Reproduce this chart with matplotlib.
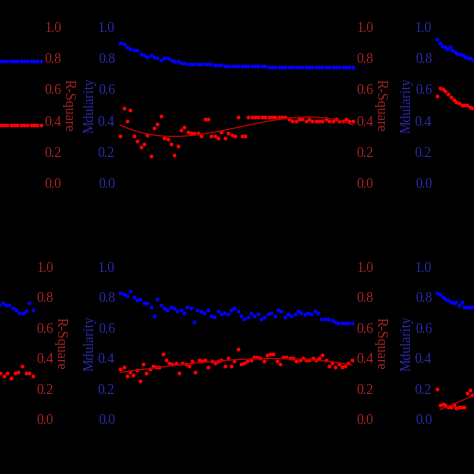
import matplotlib.pyplot as plt
import numpy as np

plt.rcParams['font.family'] = ['Liberation Serif', 'DejaVu Serif']

# --- data ---
# top row
tl_mod = [0.78] * 14
tl_r2 = [0.37] * 14
tm_mod = [0.90, 0.89, 0.87, 0.86, 0.85, 0.85, 0.83, 0.82, 0.81, 0.82, 0.81, 0.80, 0.79, 0.80,
          0.80, 0.79, 0.78, 0.78, 0.77, 0.77, 0.765, 0.765, 0.765, 0.76, 0.76, 0.76, 0.76, 0.76,
          0.755, 0.755, 0.755, 0.75, 0.75, 0.75, 0.75, 0.75, 0.75, 0.75, 0.75, 0.75, 0.75, 0.75,
          0.75, 0.75, 0.745, 0.745, 0.745, 0.745, 0.745, 0.745, 0.745, 0.745, 0.745, 0.745, 0.745,
          0.745, 0.745, 0.745, 0.745, 0.745, 0.745, 0.745, 0.745, 0.745, 0.745, 0.745, 0.745, 0.745,
          0.745, 0.745]
tm_r2 = [0.30, 0.48, 0.40, 0.47, 0.30, 0.27, 0.23, 0.25, 0.31, 0.17, 0.35, 0.38, 0.43, 0.29,
         0.28, 0.25, 0.18, 0.24, 0.34, 0.36, 0.33, 0.32, 0.32, 0.32, 0.30, 0.41, 0.41, 0.30,
         0.30, 0.29, 0.33, 0.29, 0.32, 0.31, 0.30, 0.42, 0.30, 0.30,
         0.42, 0.42, 0.42, 0.42, 0.42, 0.42, 0.42, 0.42, 0.42, 0.42, 0.42, 0.42, 0.41, 0.40,
         0.40, 0.41, 0.41, 0.40, 0.41, 0.40, 0.40, 0.40, 0.40, 0.41, 0.40, 0.40, 0.41, 0.40,
         0.40, 0.41, 0.40, 0.40]
tr_mod = [0.92, 0.90, 0.88, 0.87, 0.86, 0.87, 0.85, 0.84, 0.83, 0.83, 0.82, 0.81, 0.80, 0.80, 0.79, 0.79]
tr_r2 = [0.56, 0.61, 0.60, 0.59, 0.57, 0.55, 0.53, 0.52, 0.51, 0.50, 0.50, 0.50, 0.49, 0.48, 0.48]

# bottom row
bl_mod = [0.73, 0.70, 0.77, 0.75, 0.76, 0.75, 0.75, 0.73, 0.72, 0.70, 0.70, 0.71, 0.76, 0.72]
bl_r2 = [0.31, 0.32, 0.31, 0.30, 0.28, 0.30, 0.27, 0.30, 0.31, 0.35, 0.30, 0.30, 0.28]
bm_mod = [0.83, 0.82, 0.81, 0.84, 0.80, 0.78, 0.79, 0.76, 0.76, 0.74, 0.68, 0.79, 0.75, 0.73,
          0.72, 0.74, 0.73, 0.71, 0.72, 0.70, 0.74, 0.73, 0.64, 0.72, 0.71, 0.70, 0.72, 0.68,
          0.67, 0.71, 0.69, 0.70, 0.69, 0.72, 0.73, 0.71, 0.68, 0.66, 0.67, 0.70, 0.68, 0.69,
          0.66, 0.67, 0.69, 0.70, 0.68, 0.72, 0.71, 0.67, 0.69, 0.68, 0.69, 0.71, 0.70, 0.69,
          0.70, 0.69, 0.71, 0.70, 0.66, 0.66, 0.66, 0.65, 0.64, 0.63, 0.63, 0.63, 0.63, 0.63]
bm_r2 = [0.33, 0.34, 0.28, 0.31, 0.29, 0.32, 0.25, 0.36, 0.30, 0.33, 0.35, 0.34, 0.34, 0.43,
         0.39, 0.37, 0.36, 0.37, 0.30, 0.37, 0.36, 0.35, 0.38, 0.31, 0.39, 0.38, 0.39, 0.34,
         0.38, 0.37, 0.38, 0.39, 0.35, 0.40, 0.35, 0.38, 0.46, 0.36, 0.37, 0.38, 0.39, 0.41,
         0.41, 0.40, 0.38, 0.42, 0.43, 0.43, 0.38, 0.36, 0.41, 0.41, 0.40, 0.40, 0.38, 0.39,
         0.40, 0.39, 0.39, 0.40, 0.39, 0.40, 0.42, 0.39, 0.35, 0.37, 0.34, 0.36, 0.34, 0.35,
         0.37, 0.39]
br_mod = [0.83, 0.82, 0.80, 0.79, 0.78, 0.77, 0.76, 0.77, 0.75, 0.77, 0.74, 0.74, 0.74, 0.74, 0.74]
br_r2 = [0.20, 0.09, 0.10, 0.09, 0.08, 0.08, 0.09, 0.07, 0.08, 0.08, 0.08, 0.17, 0.19, 0.16, 0.18]

ticks = [0.0, 0.2, 0.4, 0.6, 0.8, 1.0]
BLUE, RED = '#0000ff', '#ff0000'
BLUE_T, RED_T = '#2a2aa8', '#a82222'

W, H = 474, 474
fig = plt.figure(figsize=(W / 100, H / 100), dpi=100, facecolor='black')


def panel(left_px, top_px, bot_px, mod, r2, xr_mod, xr_r2, trend=None):
    rect = [left_px / W, 1 - bot_px / H, 236 / W, (bot_px - top_px) / H]
    ax = fig.add_axes(rect)
    ax.set_facecolor('none')
    ax2 = ax.twinx()
    for a in (ax, ax2):
        a.set_xlim(0, 1)
        a.set_ylim(0, 1)
        a.set_yticks(ticks)
        a.set_xticks([])
        for s in a.spines.values():
            s.set_visible(False)
        a.tick_params(length=0, labelsize=10, pad=2)
    ax.set_yticklabels([f'{t:.1f}' for t in ticks], color=BLUE_T)
    ax2.set_yticklabels([f'{t:.1f}' for t in ticks], color=RED_T)
    ax.set_ylabel('Mdularity', color=BLUE_T, fontsize=10, labelpad=1)
    ax2.set_ylabel('R-Square', color=RED_T, fontsize=10, rotation=270, labelpad=9)
    xm = np.linspace(xr_mod[0], xr_mod[1], len(mod))
    xr = np.linspace(xr_r2[0], xr_r2[1], len(r2))
    ax.plot(xm, mod, 'o', color=BLUE, ms=2.8, mew=0)
    ax.plot(xr, r2, 'o', color=RED, ms=2.8, mew=0)
    if trend:
        lo, hi, deg = trend
        c = np.polyfit(xr[lo:hi], r2[lo:hi], deg)
        xs = np.linspace(xr[lo], xr[hi - 1], 100)
        ax.plot(xs, np.polyval(c, xs), color='#c00000', lw=0.9)


# top row
panel(42 - 236, 27, 183, tl_mod, tl_r2, (0.81, 0.995), (0.81, 0.995))
panel(118, 27, 183, tm_mod, tm_r2, (0.01, 0.995), (0.01, 0.995), trend=(0, 70, 3))
panel(435, 27, 183, tr_mod, tr_r2, (0.01, 0.17), (0.01, 0.17))
# bottom row
panel(34 - 236, 267, 419, bl_mod, bl_r2, (0.81, 0.995), (0.81, 0.995))
panel(118, 267, 419, bm_mod, bm_r2, (0.01, 0.99), (0.01, 0.99), trend=(0, 72, 3))
panel(435, 267, 419, br_mod, br_r2, (0.01, 0.17), (0.01, 0.17), trend=(1, 15, 1))

fig.savefig('out.png', dpi=100, facecolor='black')
